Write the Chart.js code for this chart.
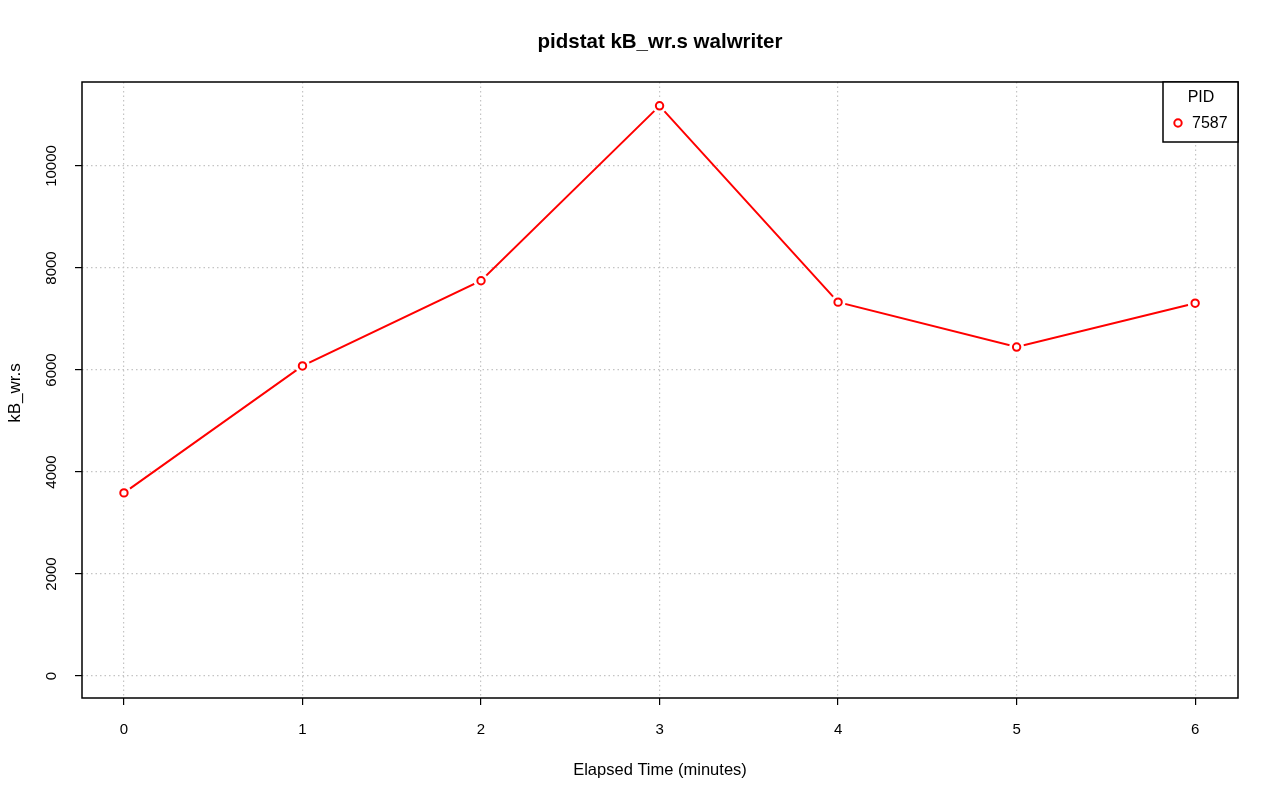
<!DOCTYPE html>
<html>
<head>
<meta charset="utf-8">
<script src="https://cdn.jsdelivr.net/npm/chart.js@4"></script>
<style>
  html, body { margin: 0; padding: 0; background: #fff; }
  #wrap { width: 1280px; height: 801px; }
</style>
</head>
<body>
<div id="wrap"><canvas id="pidstatChart" width="1280" height="801"></canvas></div>
<script>
// data
const minutes = [0, 1, 2, 3, 4, 5, 6];
const kbWrS = [3590, 6080, 7750, 11180, 7330, 6450, 7310];
const pidLabel = "7587";
const xTicks = [0, 1, 2, 3, 4, 5, 6];
const yTicks = [0, 2000, 4000, 6000, 8000, 10000];

const FONT = "'Liberation Sans', Arial, sans-serif";
const points = minutes.map((m, i) => ({ x: m, y: kbWrS[i] }));

// title, y labels, frame and legend drawn on top, R style
const rDecor = {
  id: "rDecor",
  afterDraw(chart) {
    const ctx = chart.ctx;
    const a = chart.chartArea;
    const y = chart.scales.y;
    ctx.save();

    ctx.fillStyle = "#000";
    ctx.font = "bold 20.5px " + FONT;
    ctx.textAlign = "center";
    ctx.textBaseline = "middle";
    ctx.fillText("pidstat kB_wr.s walwriter", (a.left + a.right) / 2, 42);

    ctx.font = "16.5px " + FONT;
    ctx.fillText("Elapsed Time (minutes)", (a.left + a.right) / 2, 770);

    ctx.save();
    ctx.translate(15, (a.top + a.bottom) / 2 + 3);
    ctx.rotate(-Math.PI / 2);
    ctx.font = "17px " + FONT;
    ctx.fillText("kB_wr.s", 0, 0);
    ctx.restore();

    // rotated y tick labels
    ctx.font = "15px " + FONT;
    yTicks.forEach((v) => {
      ctx.save();
      ctx.translate(52, y.getPixelForValue(v));
      ctx.rotate(-Math.PI / 2);
      ctx.fillText(String(v), 0, 0);
      ctx.restore();
    });

    // box
    ctx.strokeStyle = "#000";
    ctx.lineWidth = 1.5;
    ctx.strokeRect(a.left, a.top, a.right - a.left, a.bottom - a.top);

    // legend top right
    const lw = 75, lh = 60;
    const lx = a.right - lw, ly = a.top;
    ctx.fillStyle = "#fff";
    ctx.fillRect(lx, ly, lw, lh);
    ctx.strokeRect(lx, ly, lw, lh);
    ctx.fillStyle = "#000";
    ctx.font = "16px " + FONT;
    ctx.fillText("PID", lx + 38, ly + 16);
    ctx.textAlign = "left";
    ctx.fillText(pidLabel, lx + 29, ly + 42);
    ctx.beginPath();
    ctx.arc(lx + 15, ly + 41, 3.7, 0, Math.PI * 2);
    ctx.strokeStyle = "#ff0000";
    ctx.lineWidth = 2;
    ctx.stroke();

    ctx.restore();
  }
};

const gridOpts = {
  color: "#c4c4c4",
  lineWidth: 1.2,
  drawTicks: true,
  tickLength: 7,
  tickColor: "#000",
  tickWidth: 1.2,
  tickBorderDash: []
};
const borderOpts = { display: false, dash: [1.5, 3] };

new Chart(document.getElementById("pidstatChart"), {
  type: "line",
  data: {
    datasets: [
      {
        label: pidLabel,
        data: points,
        borderColor: "#ff0000",
        borderWidth: 2,
        pointRadius: 0,
        order: 3
      },
      {
        label: "gap",
        data: points,
        showLine: false,
        pointRadius: 7.5,
        pointBorderWidth: 0,
        pointBackgroundColor: "#fff",
        pointBorderColor: "#fff",
        order: 2
      },
      {
        label: "marker",
        data: points,
        showLine: false,
        pointRadius: 3.7,
        pointBorderWidth: 2,
        pointBackgroundColor: "#fff",
        pointBorderColor: "#ff0000",
        order: 1
      }
    ]
  },
  options: {
    responsive: false,
    animation: false,
    layout: { padding: { top: 82, right: 42, left: 0, bottom: 0 } },
    plugins: {
      legend: { display: false },
      title: { display: false },
      tooltip: { enabled: false }
    },
    scales: {
      x: {
        type: "linear",
        min: -0.235,
        max: 6.24,
        grid: gridOpts,
        border: borderOpts,
        afterBuildTicks: (s) => { s.ticks = xTicks.map((v) => ({ value: v })); },
        afterFit: (s) => { s.height = 103; },
        ticks: {
          color: "#000",
          font: { family: FONT, size: 15 },
          padding: 16,
          maxRotation: 0
        }
      },
      y: {
        type: "linear",
        min: -431,
        max: 11647,
        grid: gridOpts,
        border: borderOpts,
        afterBuildTicks: (s) => { s.ticks = yTicks.map((v) => ({ value: v })); },
        afterFit: (s) => { s.width = 82; },
        ticks: { display: false }
      }
    }
  },
  plugins: [rDecor]
});
</script>
</body>
</html>
